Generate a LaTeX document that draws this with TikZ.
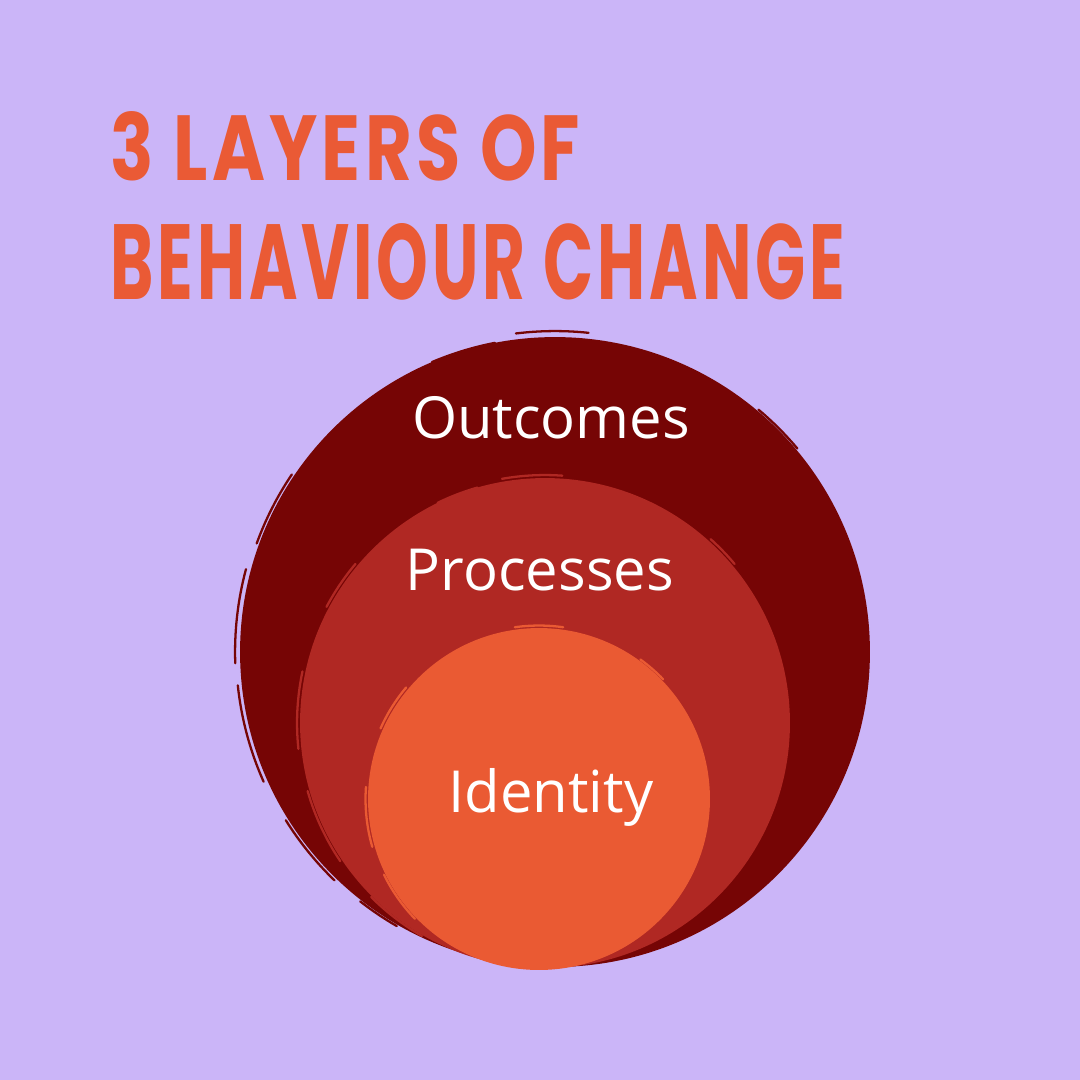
\documentclass[tikz,border=0pt]{standalone}
\usepackage{fontspec}
\setmainfont{Open Sans}
\newfontfamily\titlefont{Poppins}[UprightFont=* Bold, LetterSpace=6]
\newfontfamily\labelfont{Open Sans}
\definecolor{bg}{HTML}{CBB5F8}
\definecolor{titlec}{HTML}{EA5A35}
\definecolor{outerc}{HTML}{760505}
\definecolor{midc}{HTML}{B02823}
\definecolor{innerc}{HTML}{EA5A33}
\tikzset{
  layer/.style={circle, inner sep=0pt, draw=none},
  lab/.style={text=white, font=\labelfont\fontsize{33}{33}\selectfont, inner sep=0pt},
  ttl/.style={text=titlec, inner sep=0pt, anchor=west},
  brush/.style={line width=1.3pt, line cap=round},
}
\begin{document}
\begin{tikzpicture}[x=0.02cm,y=-0.02cm]
\fill[bg] (0,0) rectangle (1080,1080);
\useasboundingbox (0,0) rectangle (1080,1080);

% title
\node[ttl] (t1) at (110,146) {\resizebox{9.4cm}{1.38cm}{\titlefont 3 LAYERS OF}};
\node[ttl] (t2) at (110,262) {\resizebox{14.7cm}{1.52cm}{\titlefont BEHAVIOUR CHANGE}};

% circles
\node[layer, fill=outerc, minimum size=12.6cm] (outer) at (555,652) {};
\node[layer, fill=midc, minimum size=9.8cm] (mid) at (545,723) {};
\node[layer, fill=innerc, minimum size=6.84cm] (inner) at (539,799) {};

% brush strokes outer
\begin{scope}[brush, draw=outerc]
\draw (outer.center) ++(84:6.42cm) arc[start angle=84, end angle=97, radius=6.42cm];
\draw (outer.center) ++(101:6.3cm) arc[start angle=101, end angle=113, radius=6.3cm];
\draw (outer.center) ++(146:6.35cm) arc[start angle=146, end angle=160, radius=6.35cm];
\draw (outer.center) ++(165:6.4cm) arc[start angle=165, end angle=182, radius=6.4cm];
\draw (outer.center) ++(186:6.38cm) arc[start angle=186, end angle=204, radius=6.38cm];
\draw (outer.center) ++(212:6.35cm) arc[start angle=212, end angle=226, radius=6.35cm];
\draw (outer.center) ++(232:6.33cm) arc[start angle=232, end angle=240, radius=6.33cm];
\draw (outer.center) ++(40:6.33cm) arc[start angle=40, end angle=50, radius=6.33cm];
\end{scope}
% brush strokes middle
\begin{scope}[brush, draw=midc]
\draw (mid.center) ++(86:4.96cm) arc[start angle=86, end angle=100, radius=4.96cm];
\draw (mid.center) ++(106:4.9cm) arc[start angle=106, end angle=116, radius=4.9cm];
\draw (mid.center) ++(140:4.95cm) arc[start angle=140, end angle=152, radius=4.95cm];
\draw (mid.center) ++(168:4.96cm) arc[start angle=168, end angle=186, radius=4.96cm];
\draw (mid.center) ++(196:4.94cm) arc[start angle=196, end angle=214, radius=4.94cm];
\draw (mid.center) ++(225:4.92cm) arc[start angle=225, end angle=240, radius=4.92cm];
\draw (mid.center) ++(40:4.95cm) arc[start angle=40, end angle=48, radius=4.95cm];
\end{scope}
% brush strokes inner
\begin{scope}[brush, draw=innerc]
\draw (inner.center) ++(82:3.47cm) arc[start angle=82, end angle=98, radius=3.47cm];
\draw (inner.center) ++(140:3.47cm) arc[start angle=140, end angle=156, radius=3.47cm];
\draw (inner.center) ++(176:3.47cm) arc[start angle=176, end angle=196, radius=3.47cm];
\draw (inner.center) ++(206:3.45cm) arc[start angle=206, end angle=224, radius=3.45cm];
\draw (inner.center) ++(44:3.45cm) arc[start angle=44, end angle=54, radius=3.45cm];
\end{scope}

% labels
\node[lab] (l1) at (551,418) {Outcomes};
\node[lab] (l2) at (540,570) {Processes};
\node[lab] (l3) at (551,797) {Identity};
\end{tikzpicture}
\end{document}
